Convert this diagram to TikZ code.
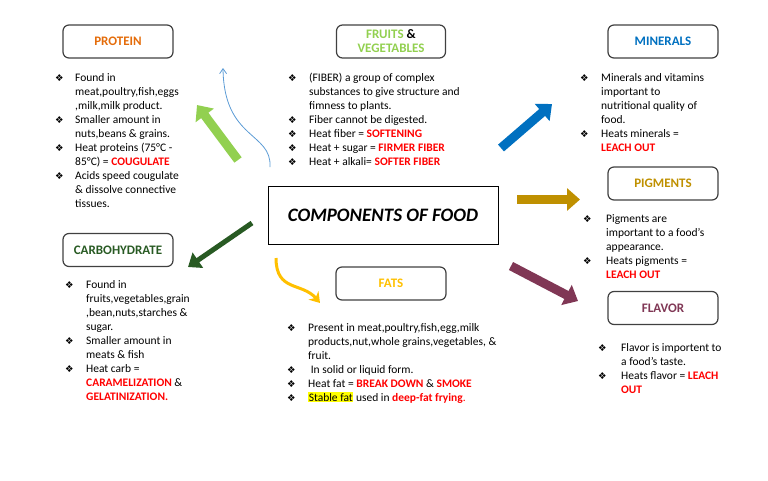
\documentclass[tikz,border=0pt]{standalone}
\usepackage{fontspec}
\setmainfont{Carlito}
\newfontfamily\djv{DejaVu Sans}
\usetikzlibrary{arrows.meta}
\definecolor{boxgray}{RGB}{64,64,64}
\definecolor{protorange}{RGB}{228,108,10}
\definecolor{fruitgreen}{RGB}{146,208,80}
\definecolor{minblue}{RGB}{0,112,192}
\definecolor{piggold}{RGB}{191,144,0}
\definecolor{flavmaroon}{RGB}{128,55,85}
\definecolor{carbgreen}{RGB}{40,90,35}
\definecolor{fatyellow}{RGB}{255,192,0}
\definecolor{curveblue}{RGB}{91,155,213}
\definecolor{hiyellow}{RGB}{255,255,0}
\newcommand\bul{{\djv\fontsize{9.5}{9.5}\selectfont ❖}}
\newcommand\rd[1]{\textcolor{red}{\textbf{#1}}}
\newcommand\hl[1]{{\setlength\fboxsep{0.6pt}\colorbox{hiyellow}{#1}}}
\tikzset{
  hbox/.style={draw=boxgray, line width=1.2pt, rounded corners=6pt, minimum width=110pt, minimum height=33pt, font=\fontsize{13}{14}\selectfont\bfseries, align=center, inner sep=0pt},
  lst/.style={anchor=base west, inner sep=0pt, font=\fontsize{11.5}{14}\selectfont},
  fatarrow/.style={line width=9pt, -{Triangle[length=13pt,width=22pt]}},
}
\begin{document}
\begin{tikzpicture}[x=1pt,y=-1pt]
\useasboundingbox (0,0) rectangle (768,480);
% heading boxes
\node[hbox, text=protorange] (protein) at (118,41.5) {PROTEIN};
\node[hbox, minimum width=109pt] (fruits) at (391,41.5) {\textcolor{fruitgreen}{FRUITS} \&\\\textcolor{fruitgreen}{VEGETABLES}};
\node[hbox, text=minblue] (minerals) at (663,41.5) {MINERALS};
\node[hbox, text=piggold] (pigments) at (663,183.5) {PIGMENTS};
\node[hbox, text=flavmaroon] (flavor) at (663,308) {FLAVOR};
\node[hbox, text=carbgreen] (carbo) at (118,250) {CARBOHYDRATE};
\node[hbox, text=fatyellow] (fats) at (391,283.5) {FATS};
\node[draw=black, line width=1pt, minimum width=230pt, minimum height=58pt, inner sep=0pt, font=\fontsize{19}{21}\selectfont\bfseries\itshape] (main) at (383,215) {COMPONENTS OF FOOD};
% lists
\node[lst] (protlist) at (55,81) {\begin{tabular}[t]{@{}p{20pt}@{}l@{}}
\bul & Found in\\
 & meat,poultry,fish,eggs\\
 & ,milk,milk product.\\
\bul & Smaller amount in\\
 & nuts,beans \& grains.\\
\bul & Heat proteins (75°C -\\
 & 85°C) = \rd{COUGULATE}\\
\bul & Acids speed cougulate\\
 & \& dissolve connective\\
 & tissues.
\end{tabular}};
\node[lst] (fruitlist) at (288,81) {\begin{tabular}[t]{@{}p{21pt}@{}l@{}}
\bul & (FIBER) a group of complex\\
 & substances to give structure and\\
 & fimness to plants.\\
\bul & Fiber cannot be digested.\\
\bul & Heat fiber = \rd{SOFTENING}\\
\bul & Heat + sugar = \rd{FIRMER FIBER}\\
\bul & Heat + alkali= \rd{SOFTER FIBER}
\end{tabular}};
\node[lst] (minlist) at (580,81) {\begin{tabular}[t]{@{}p{21pt}@{}l@{}}
\bul & Minerals and vitamins\\
 & important to\\
 & nutritional quality of\\
 & food.\\
\bul & Heats minerals =\\
 & \rd{LEACH OUT}
\end{tabular}};
\node[lst] (piglist) at (583,222) {\begin{tabular}[t]{@{}p{23pt}@{}l@{}}
\bul & Pigments are\\
 & important to a food’s\\
 & appearance.\\
\bul & Heats pigments =\\
 & \rd{LEACH OUT}
\end{tabular}};
\node[lst] (flavlist) at (598,351) {\begin{tabular}[t]{@{}p{23pt}@{}l@{}}
\bul & Flavor is importent to\\
 & a food’s taste.\\
\bul & Heats flavor = \rd{LEACH}\\
 & \rd{OUT}
\end{tabular}};
\node[lst] (carblist) at (65,288) {\begin{tabular}[t]{@{}p{21pt}@{}l@{}}
\bul & Found in\\
 & fruits,vegetables,grain\\
 & ,bean,nuts,starches \&\\
 & sugar.\\
\bul & Smaller amount in\\
 & meats \& fish\\
\bul & Heat carb =\\
 & \rd{CARAMELIZATION} \&\\
 & \rd{GELATINIZATION.}
\end{tabular}};
\node[lst] (fatlist) at (287,331) {\begin{tabular}[t]{@{}p{21pt}@{}l@{}}
\bul & Present in meat,poultry,fish,egg,milk\\
 & products,nut,whole grains,vegetables, \&\\
 & fruit.\\
\bul & \ In solid or liquid form.\\
\bul & Heat fat = \rd{BREAK DOWN} \& \rd{SMOKE}\\
\bul & \hl{Stable fat} used in \rd{deep-fat frying}\textcolor{red}{.}
\end{tabular}};
% arrow end points
\coordinate (pa1) at (238,160); \coordinate (pa2) at (197,105);
\coordinate (ma1) at (501,148); \coordinate (ma2) at (552,104);
\coordinate (ga1) at (517,199.5); \coordinate (ga2) at (580,199.5);
\coordinate (fa1) at (511,266); \coordinate (fa2) at (578,301);
\coordinate (ca1) at (252,223); \coordinate (ca2) at (188,267);
\coordinate (ba1) at (270,167); \coordinate (ba2) at (223,68);
\coordinate (ya1) at (276,258); \coordinate (ya2) at (320,303);
\draw[fatarrow, fruitgreen] (pa1) -- (pa2);
\draw[fatarrow, minblue] (ma1) -- (ma2);
\draw[fatarrow, piggold] (ga1) -- (ga2);
\draw[fatarrow, flavmaroon] (fa1) -- (fa2);
\draw[line width=5pt, carbgreen, -{Triangle[length=12pt,width=18pt]}] (ca1) -- (ca2);
\draw[curveblue, line width=0.8pt, -{Straight Barb[length=5pt,width=7pt]}] (ba1) .. controls (272,132) and (224,140) .. (ba2);
\draw[fatyellow, line width=3pt, -{Stealth[length=10pt,width=13pt]}] (ya1) .. controls (276,292) and (302,282) .. (ya2);
\end{tikzpicture}
\end{document}
